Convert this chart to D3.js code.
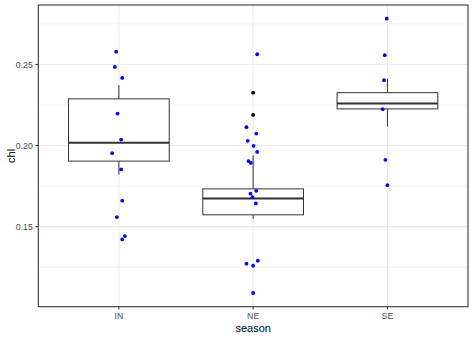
<!DOCTYPE html>
<html>
<head>
<meta charset="utf-8">
<script src="https://cdn.jsdelivr.net/npm/d3@7"></script>
<style>
  html, body { margin: 0; padding: 0; background: #fff; }
  svg { display: block; font-family: "Liberation Sans", Arial, sans-serif; }
</style>
</head>
<body>
<svg id="chart" width="474" height="338"></svg>
<script>
// Seasons on the x axis
const seasons = ["IN", "NE", "SE"];

// Box summaries per season: lower whisker, Q1, median, Q3, upper whisker
const whiskerLow  = [0.1820, 0.1549, 0.2117];
const q1          = [0.1904, 0.1573, 0.2226];
const median      = [0.2018, 0.1674, 0.2259];
const q3          = [0.2288, 0.1733, 0.2326];
const whiskerHigh = [0.2372, 0.1940, 0.2411];

// Boxplot outliers (season index, chl)
const outlierSeason = [1, 1];
const outlierChl    = [0.2326, 0.2189];

// Jittered observations: season index, chl, horizontal jitter (in category units)
const pointSeason = [
  0,0,0,0,0,0,0,0,0,0,0,
  1,1,1,1,1,1,1,1,1,1,1,1,1,1,1,1,
  2,2,2,2,2,2
];
const pointChl = [
  0.2579, 0.2485, 0.2417, 0.2197, 0.2037, 0.1953, 0.1853, 0.1660, 0.1559, 0.1442, 0.1421,
  0.2563, 0.2113, 0.2074, 0.2029, 0.1998, 0.1961, 0.1904, 0.1893, 0.1721, 0.1703, 0.1682, 0.1643, 0.1290, 0.1272, 0.1259, 0.1091,
  0.2782, 0.2557, 0.2403, 0.2224, 0.1912, 0.1756
];
const pointJitter = [
  -0.02, -0.03, 0.025, -0.01, 0.017, -0.05, 0.017, 0.025, -0.015, 0.045, 0.025,
  0.03, -0.05, 0.023, -0.04, 0.003, 0.03, -0.035, -0.017, 0.023, -0.02, -0.005, 0.02, 0.035, -0.05, 0.0, 0.0,
  -0.005, -0.02, -0.025, -0.035, -0.015, 0.0
];

// Axis ticks
const yMajorTicks = [0.15, 0.20, 0.25];
const yMinorTicks = [0.125, 0.175, 0.225, 0.275];
const yTickLabels = ["0.15", "0.20", "0.25"];

const svg = d3.select("#chart");
const panel = { left: 38.3, right: 468, top: 5, bottom: 306.7 };

// Continuous y scale, range of all values expanded by 5% on each side
const allVals = pointChl.concat(outlierChl, whiskerLow, whiskerHigh);
const lo = d3.min(allVals), hi = d3.max(allVals), pad = (hi - lo) * 0.05;
const y = d3.scaleLinear().domain([lo - pad, hi + pad]).range([panel.bottom, panel.top]);

// Discrete x positions with 0.6 units of padding on either side
const x = d3.scaleLinear().domain([0.4, seasons.length + 0.6]).range([panel.left, panel.right]);
const xc = i => x(i + 1);
const boxHalf = (x(1.75) - x(1)) / 2 * 1;  // box width 0.75 of a category
const boxW = x(1.75) - x(1);

const grid = svg.append("g");
// Minor gridlines
grid.selectAll(".ymin").data(yMinorTicks).join("line")
  .attr("x1", panel.left).attr("x2", panel.right)
  .attr("y1", d => y(d)).attr("y2", d => y(d))
  .attr("stroke", "#ebebeb").attr("stroke-width", 0.55);
// Major gridlines
grid.selectAll(".ymaj").data(yMajorTicks).join("line")
  .attr("x1", panel.left).attr("x2", panel.right)
  .attr("y1", d => y(d)).attr("y2", d => y(d))
  .attr("stroke", "#ebebeb").attr("stroke-width", 1.07);
grid.selectAll(".xmaj").data(seasons).join("line")
  .attr("x1", (d, i) => xc(i)).attr("x2", (d, i) => xc(i))
  .attr("y1", panel.top).attr("y2", panel.bottom)
  .attr("stroke", "#ebebeb").attr("stroke-width", 1.07);

// Boxplots
const boxes = svg.append("g").selectAll("g").data(seasons).join("g");
boxes.append("line")
  .attr("x1", (d, i) => xc(i)).attr("x2", (d, i) => xc(i))
  .attr("y1", (d, i) => y(whiskerHigh[i])).attr("y2", (d, i) => y(q3[i]))
  .attr("stroke", "#333333").attr("stroke-width", 1);
boxes.append("line")
  .attr("x1", (d, i) => xc(i)).attr("x2", (d, i) => xc(i))
  .attr("y1", (d, i) => y(q1[i])).attr("y2", (d, i) => y(whiskerLow[i]))
  .attr("stroke", "#333333").attr("stroke-width", 1);
boxes.append("rect")
  .attr("x", (d, i) => xc(i) - boxW / 2).attr("width", boxW)
  .attr("y", (d, i) => y(q3[i])).attr("height", (d, i) => y(q1[i]) - y(q3[i]))
  .attr("fill", "#ffffff").attr("stroke", "#333333").attr("stroke-width", 1);
boxes.append("line")
  .attr("x1", (d, i) => xc(i) - boxW / 2).attr("x2", (d, i) => xc(i) + boxW / 2)
  .attr("y1", (d, i) => y(median[i])).attr("y2", (d, i) => y(median[i]))
  .attr("stroke", "#333333").attr("stroke-width", 2);

// Outliers
svg.append("g").selectAll("circle").data(outlierChl).join("circle")
  .attr("cx", (d, i) => xc(outlierSeason[i]))
  .attr("cy", d => y(d))
  .attr("r", 1.9).attr("fill", "#000000");

// Jittered points
svg.append("g").selectAll("circle").data(pointChl).join("circle")
  .attr("cx", (d, i) => x(pointSeason[i] + 1 + pointJitter[i]))
  .attr("cy", d => y(d))
  .attr("r", 1.9).attr("fill", "#0000ff");

// Panel border
svg.append("rect")
  .attr("x", panel.left).attr("y", panel.top)
  .attr("width", panel.right - panel.left).attr("height", panel.bottom - panel.top)
  .attr("fill", "none").attr("stroke", "#333333").attr("stroke-width", 1.07);

// Y axis
const yAxis = svg.append("g");
yAxis.selectAll("line").data(yMajorTicks).join("line")
  .attr("x1", panel.left - 2.75).attr("x2", panel.left)
  .attr("y1", d => y(d)).attr("y2", d => y(d))
  .attr("stroke", "#333333").attr("stroke-width", 1.07);
yAxis.selectAll("text").data(yTickLabels).join("text")
  .attr("x", panel.left - 5.5).attr("y", (d, i) => y(yMajorTicks[i]))
  .attr("dy", "0.35em").attr("text-anchor", "end")
  .attr("font-size", 8.8).attr("fill", "#4d4d4d").text(d => d);

// X axis
const xAxis = svg.append("g");
xAxis.selectAll("line").data(seasons).join("line")
  .attr("x1", (d, i) => xc(i)).attr("x2", (d, i) => xc(i))
  .attr("y1", panel.bottom).attr("y2", panel.bottom + 2.75)
  .attr("stroke", "#333333").attr("stroke-width", 1.07);
xAxis.selectAll("text").data(seasons).join("text")
  .attr("x", (d, i) => xc(i)).attr("y", panel.bottom + 12.5)
  .attr("text-anchor", "middle")
  .attr("font-size", 8.8).attr("fill", "#4d4d4d").text(d => d);

// Axis titles
svg.append("text")
  .attr("x", (panel.left + panel.right) / 2).attr("y", 331.5)
  .attr("text-anchor", "middle").attr("font-size", 11).attr("fill", "#000")
  .text("season");
svg.append("text")
  .attr("transform", `translate(14.5,${(panel.top + panel.bottom) / 2}) rotate(-90)`)
  .attr("text-anchor", "middle").attr("font-size", 11).attr("fill", "#000")
  .text("chl");
</script>
</body>
</html>
